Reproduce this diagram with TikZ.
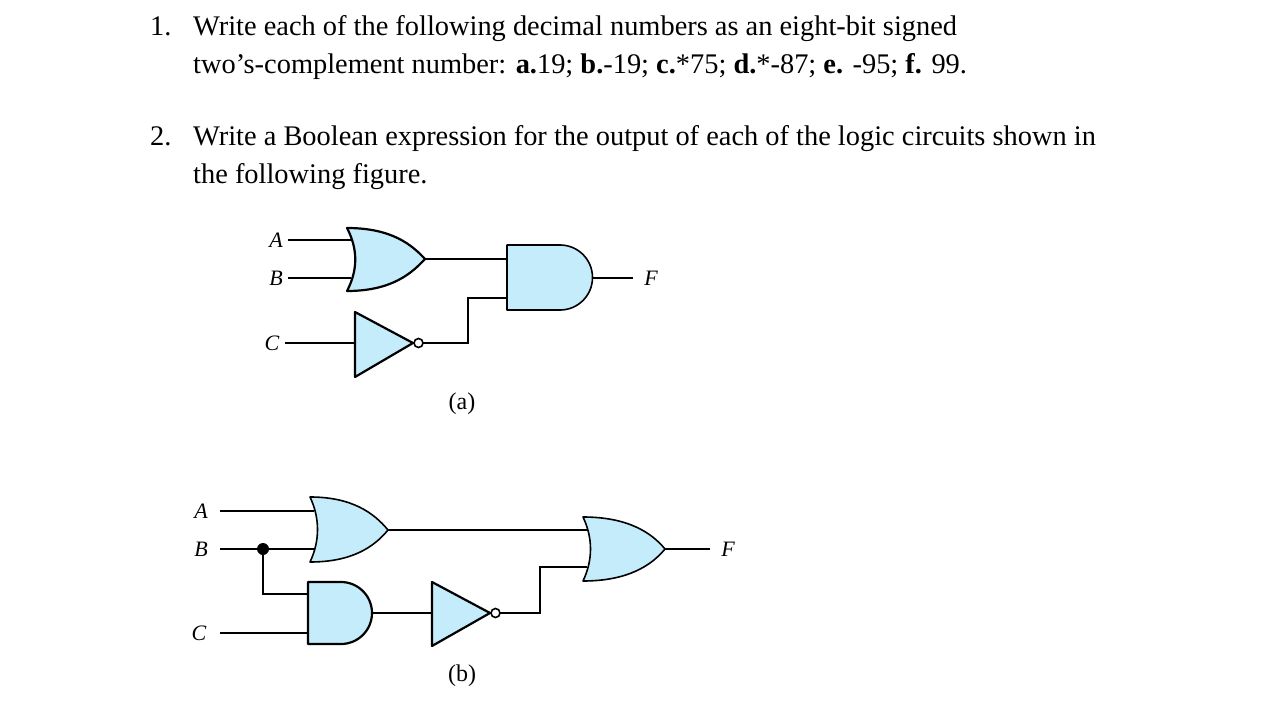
\documentclass[tikz,border=0pt]{standalone}
\usepackage{fontspec}
\setmainfont{Liberation Serif}
\begin{document}
\begin{tikzpicture}[x=1pt,y=-1pt,
  gate/.style={fill=gatefill,draw=black,line width=2.2pt,line join=round},
  wire/.style={line width=1.4pt},
  txt/.style={anchor=base west,inner sep=0pt,font=\fontsize{28.4}{32}\selectfont},
  lab/.style={inner sep=0pt,font=\fontsize{22}{24}\selectfont\itshape},
  captxt/.style={inner sep=0pt,font=\fontsize{24}{26}\selectfont}]
\definecolor{gatefill}{RGB}{196,236,250}
\useasboundingbox (0,0) rectangle (1277,714);
% text
\node[txt] (n1) at (150,36) {1.};
\node[txt] (t1) at (193,36) {Write each of the following decimal numbers as an eight-bit signed};
\node[txt] (t2) at (193,74) {two’s-complement number: \textbf{a.}19; \textbf{b.}-19; \textbf{c.}*75; \textbf{d.}*-87; \textbf{e.} -95; \textbf{f.} 99.};
\node[txt] (n2) at (150,146) {2.};
\node[txt] (t3) at (193,146) {Write a Boolean expression for the output of each of the logic circuits shown in};
\node[txt] (t4) at (193,184) {the following figure.};
% ===== (a) =====
\node[lab] (aA) at (276,240) {A};
\node[lab] (aB) at (276,278) {B};
\node[lab] (aC) at (272,343) {C};
\node[lab] (aF) at (651,278) {F};
\node[captxt] (ca) at (462,404) {(a)};
% OR gate a
\draw[gate] (347,228) .. controls (392,228) and (412,245) .. (425,259)
  .. controls (412,273) and (392,291) .. (347,291)
  .. controls (358,270) and (358,249) .. (347,228) -- cycle;
\coordinate (aOR) at (425,259);
\draw[wire] (aA.east)++(5,0) -- (351,240);
\draw[wire] (aB.east)++(5,0) -- (351,278);
% AND gate a
\draw[gate,line width=1.6pt] (507,245) -- (560,245) arc[start angle=-90,end angle=90,radius=32.5] -- (507,310) -- cycle;
\coordinate (aAND) at (592,278);
\draw[wire] (aAND) -- (633,278);
% NOT a
\draw[gate] (355,312) -- (413,343) -- (355,377) -- cycle;
\draw[line width=1.6pt,fill=white] (418.5,343) circle (4.5);
\draw[wire] (aC.east)++(5,0) -- (355,343);
\draw[wire] (aOR) -- (507,259);
\draw[wire] (423,343) -- (468,343) -- (468,298) -- (507,298);
% ===== (b) =====
\node[lab] (bA) at (201,511) {A};
\node[lab] (bB) at (201,549) {B};
\node[lab] (bC) at (199,633) {C};
\node[lab] (bF) at (728,549) {F};
\node[captxt] (cb) at (462,676) {(b)};
% OR1
\draw[gate,line width=1.6pt] (310,497) .. controls (352,497) and (374,513) .. (388,530)
  .. controls (374,547) and (352,562) .. (310,562)
  .. controls (320,541) and (320,518) .. (310,497) -- cycle;
\coordinate (bOR1) at (388,530);
\draw[wire] (220,511) -- (314,511);
\draw[wire] (220,549) -- (314,549);
\fill (263,549) circle (6);
\coordinate (dot) at (263,549);
\draw[wire] (dot) -- (263,594) -- (308,594);
% AND b
\draw[gate] (308,582) -- (341,582) arc[start angle=-90,end angle=90,radius=31] -- (308,644) -- cycle;
\draw[wire] (220,633) -- (308,633);
\draw[wire] (372,613) -- (432,613);
% NOT b
\draw[gate] (432,582) -- (490,613) -- (432,646) -- cycle;
\draw[line width=1.6pt,fill=white] (495.5,613) circle (4.5);
\draw[wire] (500,613) -- (540,613) -- (540,567) -- (587,567);
% OR2
\draw[gate,line width=1.6pt] (583,517) .. controls (627,517) and (651,532) .. (665,549)
  .. controls (651,566) and (627,581) .. (583,581)
  .. controls (593,560) and (593,538) .. (583,517) -- cycle;
\draw[wire] (bOR1) -- (587,530);
\draw[wire] (665,549) -- (710,549);
\end{tikzpicture}
\end{document}
